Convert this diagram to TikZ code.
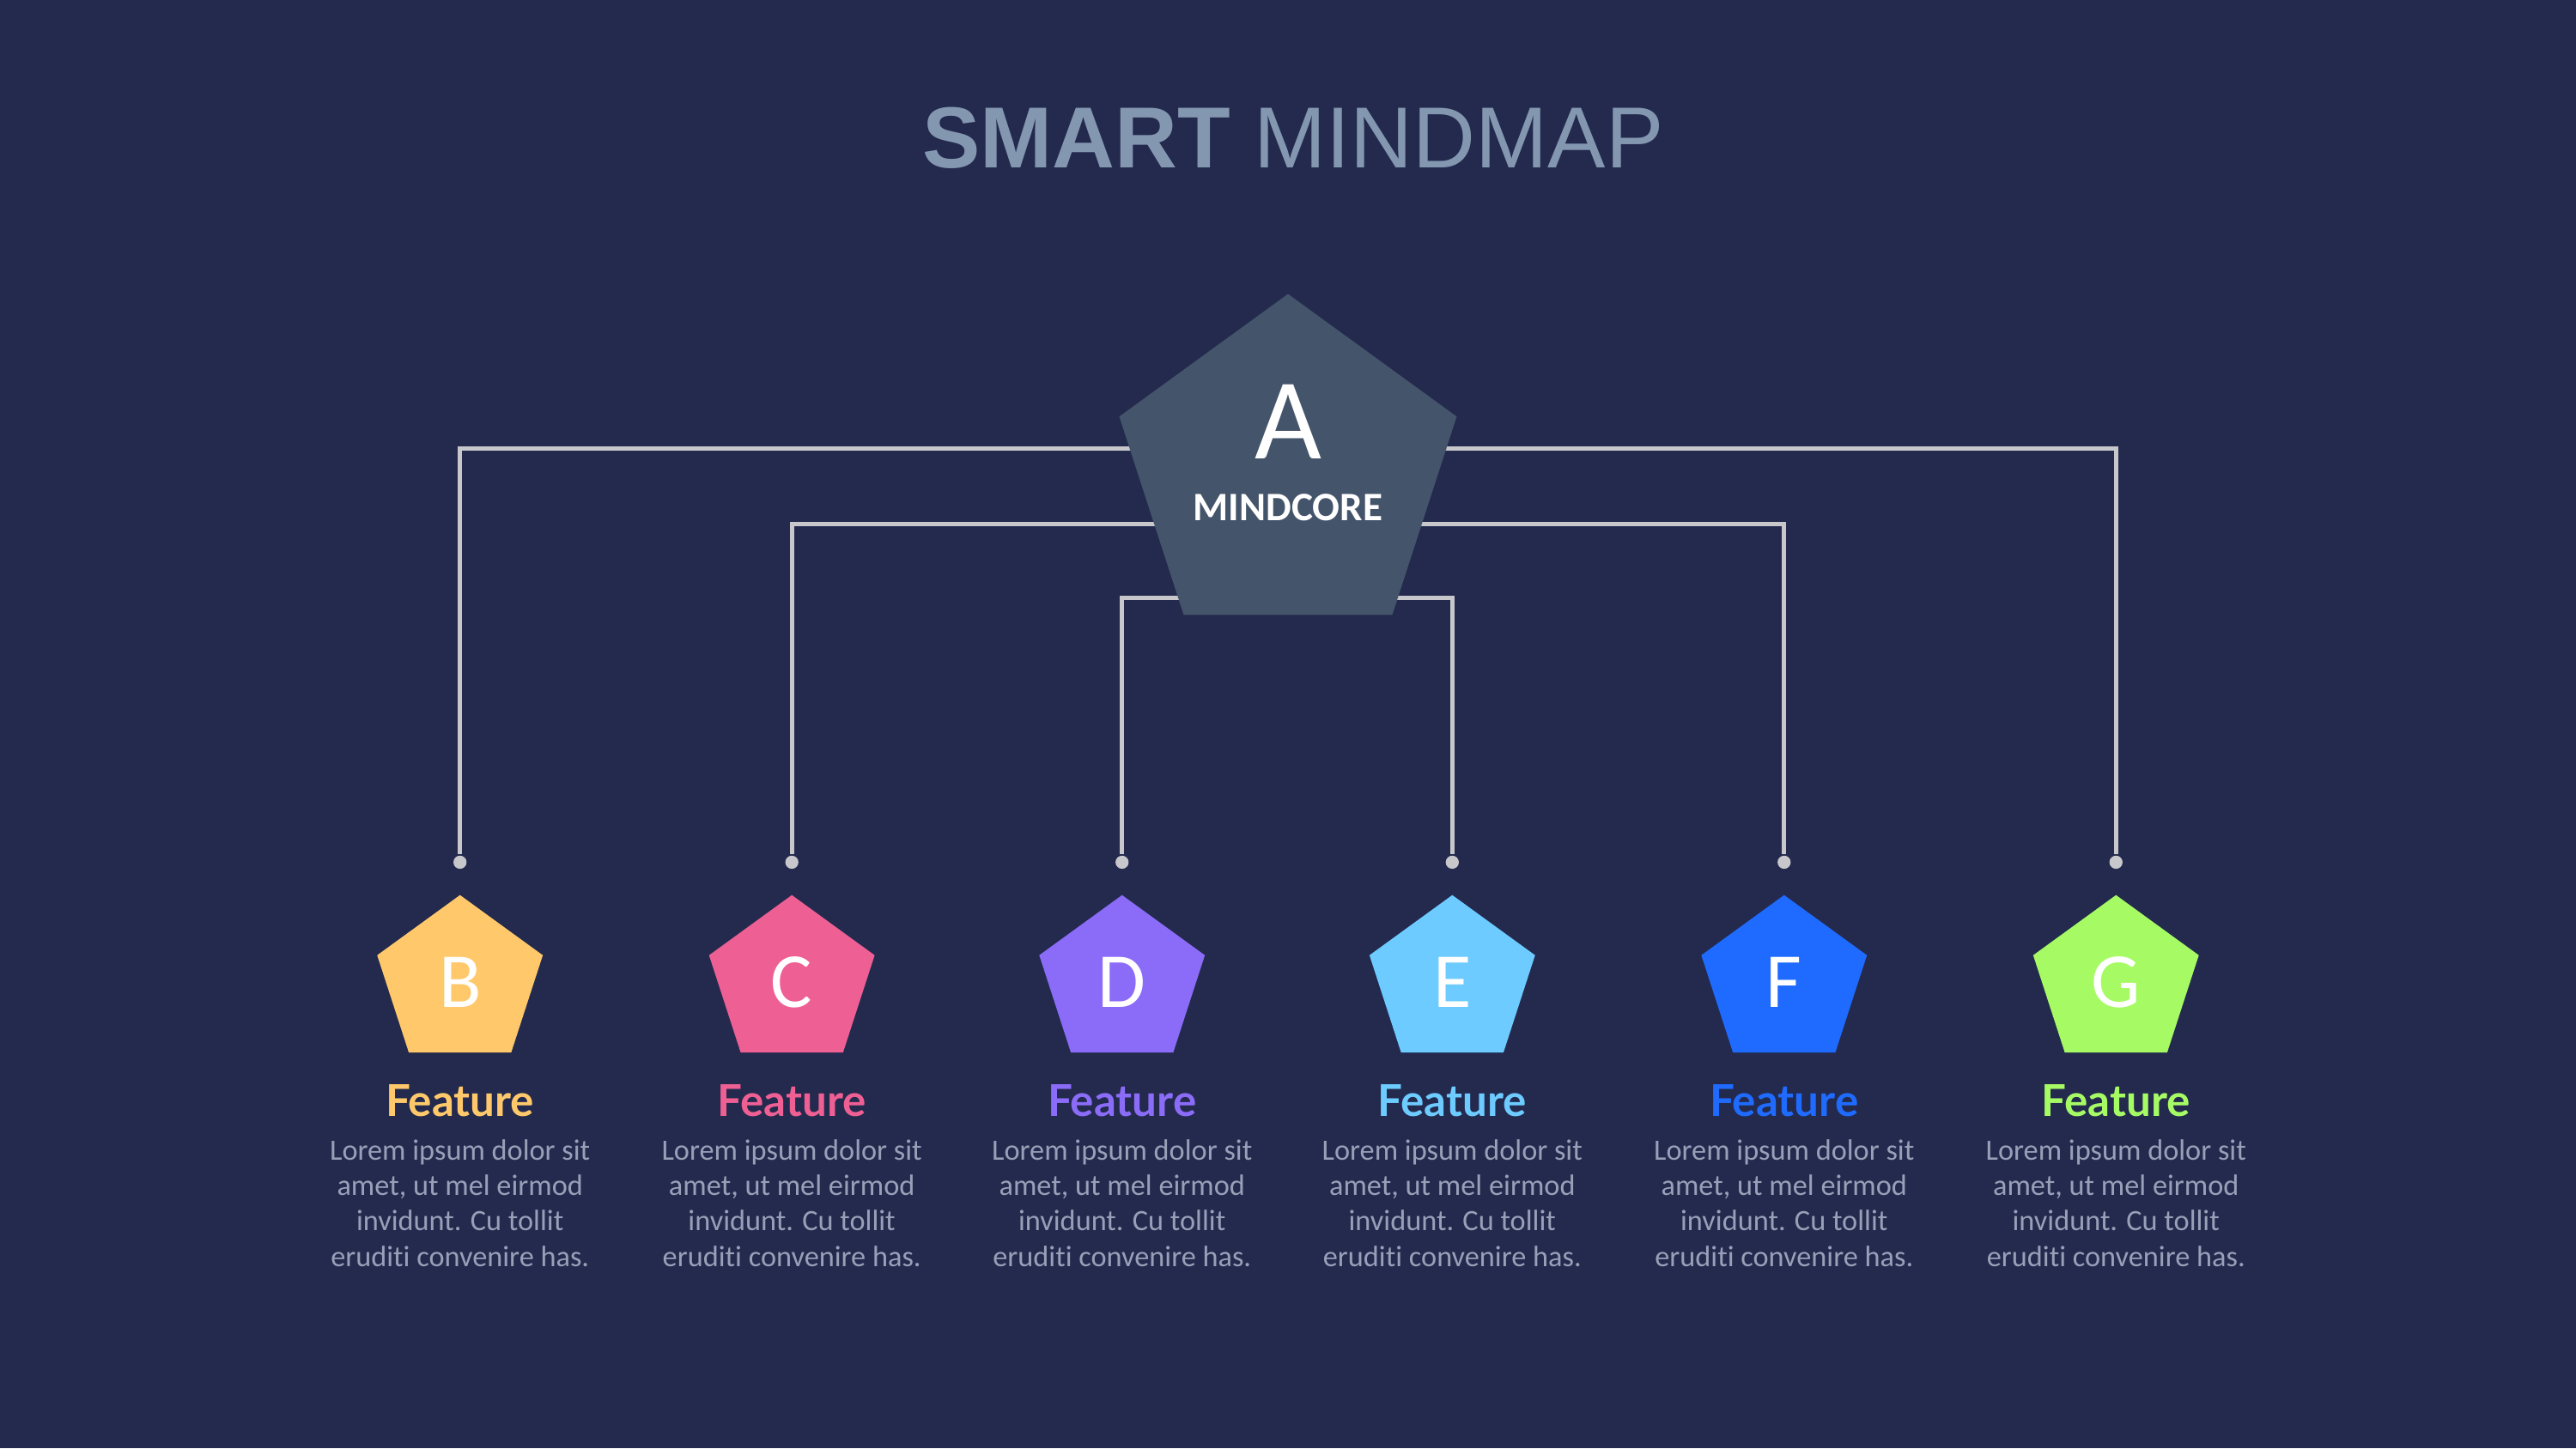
\documentclass[tikz,border=0pt]{standalone}
\usepackage{fontspec}
\setmainfont{Carlito}[Ligatures=NoCommon]
\newfontfamily\arialf{Liberation Sans}
\newfontfamily\latof{Lato}
\usetikzlibrary{shapes.geometric}
\definecolor{bg}{HTML}{232A4E}
\definecolor{core}{HTML}{44546A}
\definecolor{ttl}{HTML}{8497B0}
\definecolor{lnc}{HTML}{C8C8CC}
\definecolor{body}{HTML}{9A9FB8}
\definecolor{cB}{HTML}{FFC96B}
\definecolor{cC}{HTML}{EE5F93}
\definecolor{cD}{HTML}{8B6CF8}
\definecolor{cE}{HTML}{6DCBFF}
\definecolor{cF}{HTML}{1F6BFF}
\definecolor{cG}{HTML}{A6FB65}
\tikzset{
  pent/.style={regular polygon, regular polygon sides=5, minimum size=106*0.01cm, inner sep=0pt},
  conn/.style={draw=lnc, line width=0.7pt},
  dotn/.style={circle, fill=lnc, inner sep=0pt, minimum size=0.08cm},
  feat/.style={font=\latof\bfseries\fontsize{7.6}{7.6}\selectfont},
  bodytxt/.style={text=body, align=center, font=\fontsize{5.1}{6.15}\selectfont, inner sep=0pt, anchor=north},
}
\begin{document}
\begin{tikzpicture}[x=0.01cm,y=0.01cm]
\fill[bg] (0,0) rectangle (1568,-882);
\useasboundingbox (0,0) rectangle (1568,-882);
\node (title) at (787,-84) {\arialf\color{ttl}\fontsize{15}{15}\selectfont\textbf{SMART} MINDMAP};
\foreach \n/\x/\y/\ax in {B/280/273/690, C/482/319/705, D/683/364/718, E/884/364/850, F/1086/319/862, G/1288/273/878}{
  \node[dotn] (d\n) at (\x,-525) {};
  \coordinate (k\n) at (\x,-\y);
  \coordinate (a\n) at (\ax,-\y);
  \draw[conn] (d\n) -- (k\n) -- (a\n);
}
\node[regular polygon, regular polygon sides=5, minimum size=216*0.01cm, inner sep=0pt, fill=core] (A) at (784,-287) {};
\node[text=white, font=\fontsize{20}{20}\selectfont] (Al) at (784,-257) {A};
\node[text=white, font=\bfseries\fontsize{7}{7}\selectfont] (Am) at (784,-309) {MINDCORE};
\foreach \n/\x in {B/280, C/482, D/683, E/884, F/1086, G/1288}{
  \node[pent, fill=c\n] (p\n) at (\x,-598) {};
  \node[text=white, font=\fontsize{13.5}{13.5}\selectfont] (l\n) at (\x,-598) {\n};
  \node[feat, text=c\n] (f\n) at (\x,-670) {Feature};
  \node[bodytxt] (b\n) at (\x,-693) {Lorem ipsum dolor sit\\amet, ut mel eirmod\\invidunt. Cu tollit\\eruditi convenire has.};
}
\end{tikzpicture}
\end{document}
